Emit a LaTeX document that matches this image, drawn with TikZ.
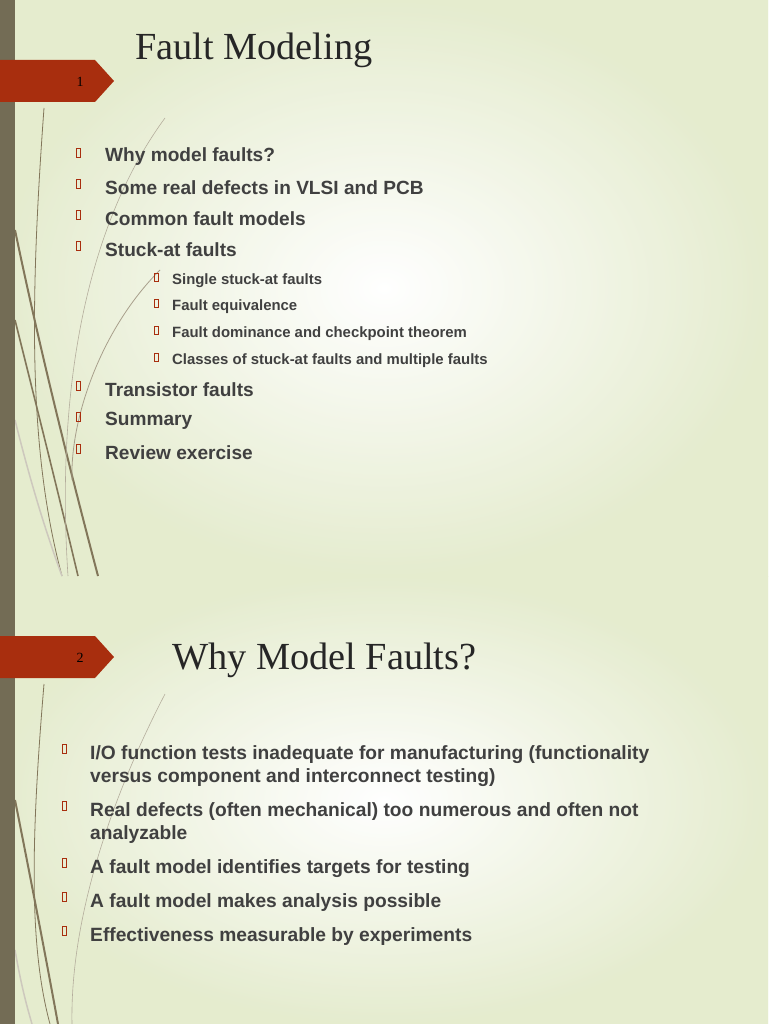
\documentclass[tikz,border=0pt]{standalone}
\usepackage{fontspec}
\setmainfont{Liberation Sans}
\newfontfamily\serifT{Liberation Serif}
\definecolor{bar}{RGB}{115,108,85}
\definecolor{tag}{RGB}{168,46,14}
\definecolor{bgout}{RGB}{218,228,186}
\definecolor{txt}{RGB}{64,64,64}
\definecolor{stem}{RGB}{130,118,90}
\begin{document}
\begin{tikzpicture}[x=1pt,y=-1pt,
  bul/.style={draw=tag,line width=0.6pt,minimum width=4pt,minimum height=9pt,inner sep=0pt},
  bul2/.style={draw=tag,line width=0.5pt,minimum width=3.5pt,minimum height=8pt,inner sep=0pt},
  item/.style={anchor=west,inner sep=0pt,text=txt,font=\fontsize{19.1}{22}\selectfont\bfseries},
  item2/.style={anchor=west,inner sep=0pt,text=txt,font=\fontsize{14.9}{17}\selectfont\bfseries},
  itemb/.style={anchor=north west,inner sep=0pt,text=txt,align=left,font=\fontsize{19.2}{23.5}\selectfont\bfseries},
  ttl/.style={anchor=west,inner sep=0pt,text=black!85,font=\serifT\fontsize{38.3}{40}\selectfont},
  num/.style={inner sep=0pt,font=\serifT\fontsize{14}{16}\selectfont}]
\useasboundingbox (0,0) rectangle (768,1024);
% backgrounds
\shade[outer color=bgout,inner color=white] (0,0) rectangle (768,576);
\fill[white,opacity=0.3] (0,0) rectangle (768,576);
\shade[outer color=bgout,inner color=white] (0,576) rectangle (768,1024);
\fill[white,opacity=0.3] (0,576) rectangle (768,1024);
\begin{scope}
\clip (0,0) rectangle (768,576);
\draw[stem,line width=0.8pt] (44,108) .. controls (30,300) and (28,450) .. (62,576);
\draw[stem,line width=2pt] (15,230) .. controls (40,350) and (70,470) .. (98,576);
\draw[stem,line width=1.6pt] (15,320) .. controls (40,420) and (60,500) .. (78,576);
\draw[stem!60,line width=0.6pt] (165,118) .. controls (90,220) and (55,380) .. (68,576);
\draw[stem!70,line width=0.8pt] (160,270) .. controls (100,330) and (70,420) .. (72,480);
\draw[stem!40,line width=1.5pt] (15,420) .. controls (30,480) and (45,530) .. (62,576);
\end{scope}
\begin{scope}
\clip (0,576) rectangle (768,1024);
\draw[stem,line width=0.8pt] (44,684) .. controls (30,850) and (30,950) .. (50,1024);
\draw[stem,line width=2pt] (15,800) .. controls (35,900) and (50,980) .. (58,1024);
\draw[stem!60,line width=0.6pt] (165,694) .. controls (110,800) and (70,920) .. (72,1024);
\draw[stem!40,line width=1.5pt] (15,950) .. controls (22,990) and (28,1010) .. (32,1024);
\end{scope}
\fill[bar] (0,0) rectangle (15,1024);
% tags
\fill[tag] (0,60) -- (95,60) -- (114,81) -- (95,102) -- (0,102) -- cycle;
\node[num] (n1) at (80,82) {1};
\fill[tag] (0,636) -- (95,636) -- (114,657) -- (95,678) -- (0,678) -- cycle;
\node[num] (n2) at (80,658) {2};
% slide 1
\node[ttl] (t1) at (135,50) {Fault Modeling};
\foreach \y/\t [count=\i] in {157/Why model faults?,188/Some real defects in VLSI and PCB,219/Common fault models,250/Stuck-at faults,390/Transistor faults,421/Summary,453/Review exercise}{
  \node[bul] (b\i) at (78,\y-4) {};
  \node[item] (i\i) at (105,\y) {\t};}
\foreach \y/\t [count=\i] in {281/Single stuck-at faults,307/Fault equivalence,334/Fault dominance and checkpoint theorem,361/Classes of stuck-at faults and multiple faults}{
  \node[bul2] (c\i) at (156,\y-4) {};
  \node[item2] (j\i) at (172,\y) {\t};}
% slide 2
\node[ttl] (t2) at (172,660) {Why Model Faults?};
\foreach \y/\t [count=\i] in {745/{I/O function tests inadequate for manufacturing (functionality\\versus component and interconnect testing)},802/{Real defects (often mechanical) too numerous and often not\\analyzable},859/A fault model identifies targets for testing,893/A fault model makes analysis possible,927/Effectiveness measurable by experiments}{
  \node[bul] (d\i) at (64,\y+4) {};
  \node[itemb] (k\i) at (90,\y) {\t};}
\end{tikzpicture}
\end{document}
